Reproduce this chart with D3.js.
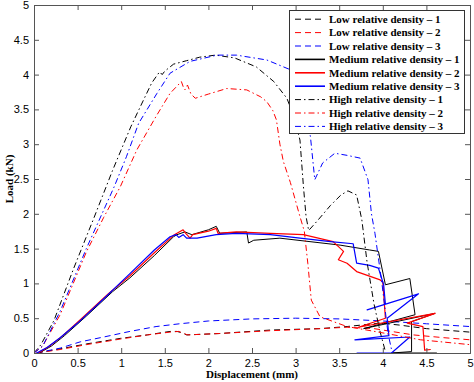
<!DOCTYPE html>
<html><head><meta charset="utf-8">
<script src="https://cdn.jsdelivr.net/npm/d3@7/dist/d3.min.js"></script>
<style>
html,body{margin:0;padding:0;background:#fff;}
svg{display:block;}
</style></head>
<body>
<script>
// ---------- DATA ----------
const xTicks = [0, 0.5, 1, 1.5, 2, 2.5, 3, 3.5, 4, 4.5, 5];
const yTicks = [0, 0.5, 1, 1.5, 2, 2.5, 3, 3.5, 4, 4.5, 5];
const xTickLabels = ["0","0.5","1","1.5","2","2.5","3","3.5","4","4.5","5"];
const yTickLabels = ["0","0.5","1","1.5","2","2.5","3","3.5","4","4.5","5"];

const seriesLabels = [
  "Low relative density \u2013 1", "Low relative density \u2013 2", "Low relative density \u2013 3",
  "Medium relative density \u2013 1", "Medium relative density \u2013 2", "Medium relative density \u2013 3",
  "High relative density \u2013 1", "High relative density \u2013 2", "High relative density \u2013 3"
];

// [displacement (mm), load (kN)]
const low1 = [[0.03,0],[0.3,0.06],[0.6,0.13],[0.99,0.21],[1.3,0.26],[1.56,0.31],[1.64,0.31],[1.7,0.29],[1.75,0.26],[2.13,0.28],[2.71,0.33],[3.28,0.35],[3.59,0.38],[3.97,0.43],[4.2,0.4],[4.5,0.35],[5,0.3]];
const low2 = [[0.03,0],[0.3,0.05],[0.6,0.12],[0.99,0.2],[1.3,0.26],[1.56,0.3],[1.66,0.31],[1.72,0.28],[1.76,0.26],[2.13,0.28],[2.71,0.32],[3.28,0.35],[3.59,0.37],[3.9,0.35],[4.35,0.26],[4.7,0.22],[5,0.19]];
const low3 = [[0.03,0],[0.3,0.07],[0.53,0.16],[0.8,0.23],[1.1,0.31],[1.4,0.38],[1.67,0.42],[2.0,0.46],[2.5,0.49],[3.0,0.5],[3.5,0.49],[4.0,0.46],[4.5,0.42],[5.0,0.38]];

const med1 = [[0.06,0],[0.2,0.1],[0.35,0.25],[0.6,0.53],[0.9,0.88],[1.1,1.08],[1.38,1.4],[1.6,1.67],[1.64,1.7],[1.73,1.74],[1.81,1.7],[2.0,1.77],[2.09,1.82],[2.13,1.72],[2.44,1.74],[2.46,1.58],[2.52,1.62],[2.82,1.65],[3.51,1.55],[3.85,1.48],[3.95,1.46],[4.03,0.98],[4.31,1.07],[4.37,0.55],[3.78,0.35],[4.6,0.57],[4.33,0.45],[4.33,0.02],[4.1,0.0],[4.62,0.0]];
const med2 = [[0.05,0],[0.18,0.1],[0.33,0.25],[0.55,0.5],[0.85,0.85],[1.1,1.11],[1.38,1.44],[1.6,1.69],[1.64,1.72],[1.71,1.77],[1.74,1.72],[1.79,1.65],[1.82,1.7],[2.0,1.75],[2.09,1.79],[2.11,1.72],[2.32,1.74],[2.71,1.72],[3.09,1.7],[3.43,1.6],[3.55,1.46],[3.49,1.34],[3.59,1.29],[3.7,1.17],[3.97,1.05],[4.0,1.02],[4.03,0.5],[3.72,0.37],[4.6,0.57],[4.28,0.43],[4.46,0.38],[4.48,0.04],[4.55,0.05]];
const med3 = [[0.03,0],[0.15,0.08],[0.3,0.22],[0.5,0.43],[0.8,0.78],[1.1,1.14],[1.38,1.48],[1.56,1.67],[1.63,1.7],[1.66,1.66],[1.71,1.7],[1.75,1.65],[1.87,1.65],[2.09,1.7],[2.32,1.72],[2.71,1.7],[3.05,1.65],[3.4,1.6],[3.66,1.57],[3.7,1.29],[3.85,1.26],[3.95,1.22],[4.01,0.98],[4.03,0.7],[3.82,0.62],[4.41,0.85],[4.05,0.5],[4.07,0.25],[3.68,0.19],[4.31,0.23],[4.1,0.0],[3.7,0.0]];

const high1 = [[0,0],[0.08,0.12],[0.23,0.47],[0.45,1.2],[0.69,1.95],[0.9,2.62],[1.11,3.25],[1.25,3.62],[1.35,3.88],[1.44,4.04],[1.47,4.0],[1.5,4.05],[1.6,4.15],[1.75,4.2],[1.9,4.25],[2.08,4.28],[2.3,4.24],[2.55,4.11],[2.75,3.9],[2.9,3.66],[2.98,3.4],[3.05,3.06],[3.09,2.39],[3.12,1.96],[3.15,1.76],[3.25,1.9],[3.4,2.12],[3.52,2.27],[3.6,2.33],[3.7,2.27],[3.76,1.91],[3.82,1.3],[3.9,0.7],[3.97,0.3],[4.03,0.02]];
const high2 = [[0,0],[0.1,0.1],[0.3,0.55],[0.6,1.45],[0.8,1.95],[0.99,2.39],[1.18,2.92],[1.4,3.4],[1.56,3.73],[1.69,3.9],[1.71,3.83],[1.73,3.78],[1.76,3.85],[1.8,3.72],[1.85,3.66],[2.0,3.72],[2.21,3.8],[2.44,3.78],[2.6,3.68],[2.67,3.61],[2.74,3.48],[2.78,3.35],[2.82,3.0],[2.86,2.75],[2.94,2.45],[3.05,1.96],[3.1,1.75],[3.14,1.29],[3.18,0.76],[3.28,0.52],[3.59,0.38],[4.04,0.28],[4.43,0.19],[5.0,0.12]];
const high3 = [[0,0],[0.1,0.1],[0.3,0.6],[0.6,1.5],[0.78,2.0],[0.92,2.39],[1.06,2.82],[1.2,3.3],[1.41,3.73],[1.56,4.02],[1.79,4.19],[2.1,4.28],[2.32,4.28],[2.67,4.21],[2.94,4.07],[3.08,3.7],[3.17,3.11],[3.22,2.49],[3.31,2.73],[3.45,2.87],[3.59,2.84],[3.74,2.8],[3.83,2.49],[3.87,2.0],[3.91,1.72],[3.99,1.0],[4.06,0.28],[4.1,0.05]];

const seriesData = [low1, low2, low3, med1, med2, med3, high1, high2, high3];

// ---------- STYLES ----------
const colors = ["#000","#f00","#00f","#000","#f00","#00f","#000","#f00","#00f"];
const DASH = "6,4", DASHDOT = "6,3,1.5,3";
const dashes = [DASH,DASH,DASH,null,null,null,DASHDOT,DASHDOT,DASHDOT];
const widths = [1,1,1,1,1.2,1.2,1,1,1];

const W = 474, H = 382;
const m = {left:34, right:4, top:5, bottom:29};
const svg = d3.select("body").append("svg").attr("width",W).attr("height",H);

const x = d3.scaleLinear().domain([0,5]).range([m.left, W - m.right]);
const y = d3.scaleLinear().domain([0,5]).range([H - m.bottom, m.top]);

svg.append("defs").append("clipPath").attr("id","clip")
  .append("rect").attr("x",x(0)).attr("y",y(5)).attr("width",x(5)-x(0)).attr("height",y(0)-y(5));

const line = d3.line().x(d=>x(d[0])).y(d=>y(d[1]));
const g = svg.append("g").attr("clip-path","url(#clip)");
seriesData.forEach((s,i)=>{
  g.append("path").attr("d",line(s)).attr("fill","none")
    .attr("stroke",colors[i]).attr("stroke-width",widths[i])
    .attr("stroke-dasharray",dashes[i]).attr("stroke-linejoin","round");
});

// axes
const tickFont = "'Liberation Sans', Arial, sans-serif";
const ax = svg.append("g").attr("transform",`translate(0,${y(0)})`)
  .call(d3.axisBottom(x).tickValues(xTicks).tickFormat((d,i)=>xTickLabels[i]).tickSize(-5).tickPadding(6));
const ay = svg.append("g").attr("transform",`translate(${x(0)},0)`)
  .call(d3.axisLeft(y).tickValues(yTicks).tickFormat((d,i)=>yTickLabels[i]).tickSize(-5).tickPadding(5));
const at = svg.append("g").attr("transform",`translate(0,${y(5)})`)
  .call(d3.axisTop(x).tickValues(xTicks).tickFormat("").tickSize(-5));
const ar = svg.append("g").attr("transform",`translate(${x(5)},0)`)
  .call(d3.axisRight(y).tickValues(yTicks).tickFormat("").tickSize(-5));
[ax,ay,at,ar].forEach(a=>{
  a.select(".domain").attr("stroke","#555");
  a.selectAll(".tick line").attr("stroke","#555");
  a.selectAll("text").attr("font-family",tickFont).attr("font-size",11).attr("fill","#000");
});

// axis titles
const serif = "'Liberation Serif','Times New Roman',serif";
svg.append("text").attr("x",(x(0)+x(5))/2).attr("y",378).attr("text-anchor","middle")
  .attr("font-family",serif).attr("font-weight","bold").attr("font-size",11).text("Displacement (mm)");
svg.append("text").attr("transform",`translate(13,${(y(0)+y(5))/2}) rotate(-90)`).attr("text-anchor","middle")
  .attr("font-family",serif).attr("font-weight","bold").attr("font-size",11).text("Load (kN)");

// legend
const lg = svg.append("g");
lg.append("rect").attr("x",289.5).attr("y",10.5).attr("width",175).attr("height",123)
  .attr("fill","#fff").attr("stroke","#333").attr("stroke-width",1);
seriesLabels.forEach((lab,i)=>{
  const cy = 19.2 + i*13.4;
  lg.append("line").attr("x1",295).attr("x2",325).attr("y1",cy).attr("y2",cy)
    .attr("stroke",colors[i]).attr("stroke-width",i>=3&&i<=5?1.6:1).attr("stroke-dasharray",dashes[i]);
  lg.append("text").attr("x",329).attr("y",cy).attr("dy","0.35em")
    .attr("font-family",serif).attr("font-weight","bold").attr("font-size",11).text(lab);
});
</script>
</body></html>
